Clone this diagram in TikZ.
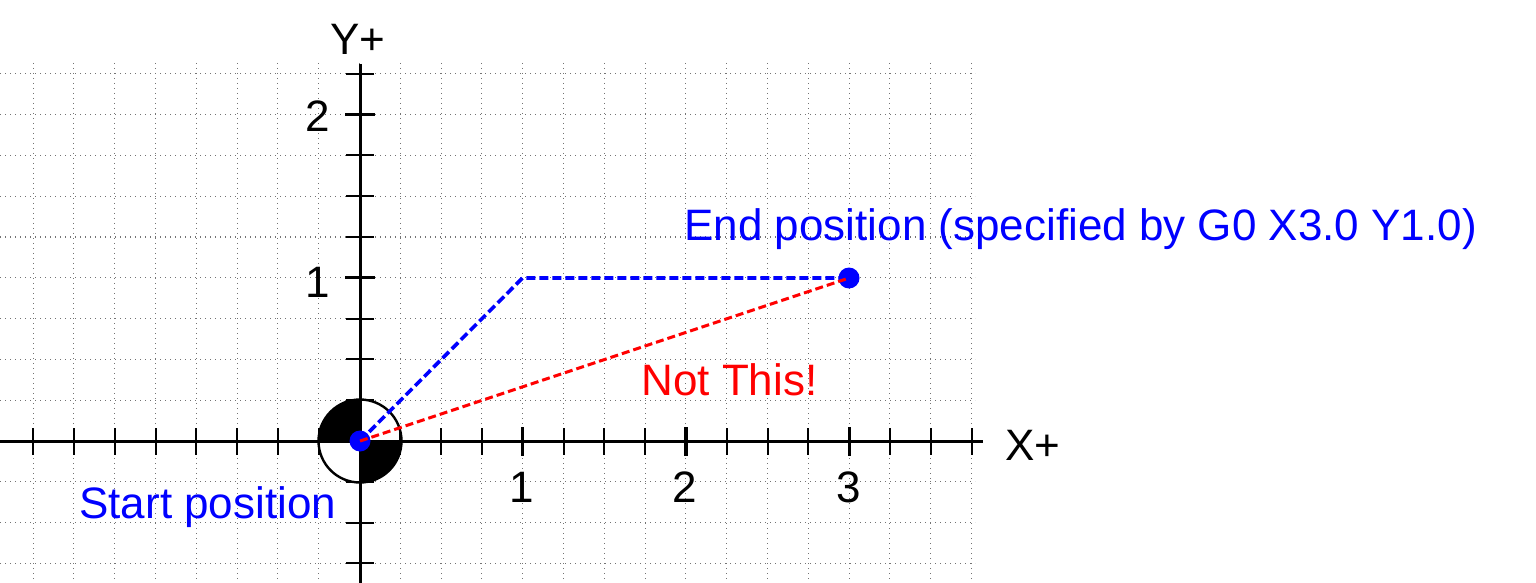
\documentclass[tikz,border=0pt]{standalone}
\usepackage{fontspec}
\setmainfont{Liberation Sans}
\begin{document}
\begin{tikzpicture}[x=0.5pt,y=-0.5pt,
  gridline/.style={draw=black!55,line width=0.55pt,dash pattern=on 0.6pt off 1.9pt},
  axisline/.style={line width=1.5pt,black},
  minortick/.style={line width=1pt,black},
  majortick/.style={line width=1.6pt,black},
  lbl/.style={inner sep=0pt,font=\fontsize{22}{26}\selectfont},
  dot/.style={circle,fill=blue,inner sep=0pt,minimum size=10.5pt},
  bluepath/.style={blue,line width=1.8pt,dash pattern=on 4.5pt off 2pt},
  redpath/.style={red,line width=1.5pt,dash pattern=on 4pt off 2pt}]
\useasboundingbox (0,0) rectangle (1536,583);
% grid
\foreach \k in {-8,...,15}
  \draw[gridline] ({359.5+\k*40.8},63) -- ({359.5+\k*40.8},583);
\foreach \k in {-3,...,9}
  \draw[gridline] (0,{441-\k*40.8}) -- (975,{441-\k*40.8});
% axes
\draw[axisline] (0,441) -- (983,441);
\draw[axisline] (360,64) -- (360,583);
% ticks
\foreach \k in {-8,...,-1,1,2,3,5,6,7,9,10,11,13,14,15}
  \draw[minortick] ({359.5+\k*40.8},428) -- ({359.5+\k*40.8},455);
\foreach \k in {4,8,12}
  \draw[majortick] ({359.5+\k*40.8},427) -- ({359.5+\k*40.8},456);
\foreach \k in {-3,-2,-1,1,2,3,5,6,7,9}
  \draw[minortick] (346,{441-\k*40.8}) -- (374,{441-\k*40.8});
\foreach \k in {4,8}
  \draw[majortick] (345,{441-\k*40.8}) -- (375,{441-\k*40.8});
% tick labels
\node[lbl,anchor=base] (x1) at (522,502) {1};
\node[lbl,anchor=base] (x2) at (685,502) {2};
\node[lbl,anchor=base] (x3) at (849,502) {3};
\node[lbl,anchor=base] (y1) at (318,297) {1};
\node[lbl,anchor=base] (y2) at (318,132) {2};
\node[lbl,anchor=base west] (xl) at (1005,460) {X+};
\node[lbl,anchor=base west] (yl) at (330,55) {Y+};
% origin marker
\fill[black] (360,441) -- (318.5,441) arc[start angle=180,end angle=270,radius=41.5] -- cycle;
\fill[black] (360,441) -- (401.5,441) arc[start angle=0,end angle=90,radius=41.5] -- cycle;
\draw[line width=1.2pt] (360,441) circle[radius=41.5];
% points
\node[dot] (O) at (360,441) {};
\node[dot] (E) at (849,278) {};
\coordinate (C) at (522.5,278);
% paths
\draw[bluepath] (O.center) -- (C) -- (E.center);
\draw[redpath] (O.center) -- (E.center);
% texts
\node[lbl,anchor=base west,text=blue] (start) at (79,518) {Start position};
\node[lbl,anchor=base west,text=blue] (end) at (684,240) {End position (specified by G0 X3.0 Y1.0)};
\node[lbl,anchor=base west,text=red] (not) at (641,395) {Not This!};
\end{tikzpicture}
\end{document}
